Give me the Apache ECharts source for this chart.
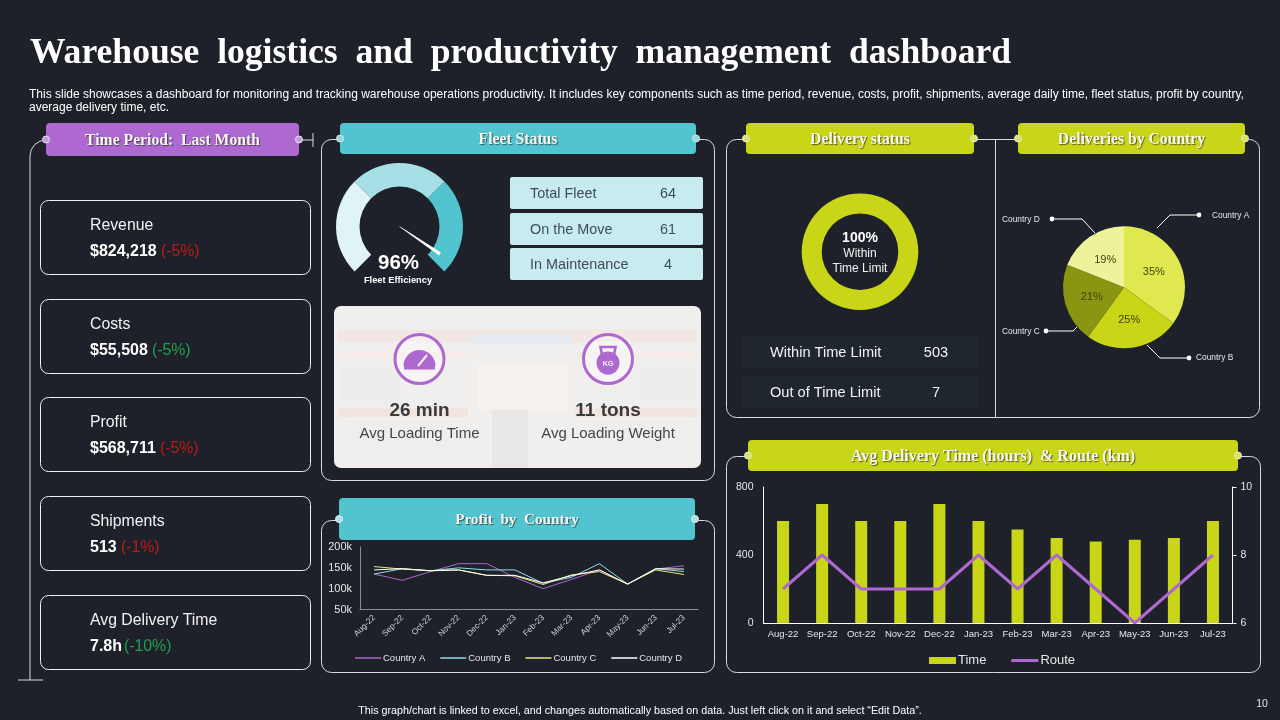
<!DOCTYPE html>
<html>
<head>
<meta charset="utf-8">
<title>Warehouse dashboard</title>
<script src="https://cdn.jsdelivr.net/npm/echarts@6/dist/echarts.min.js"></script>
<style>
  html, body { margin: 0; padding: 0; background: #1e2129; }
  #main { width: 1280px; height: 720px; }
</style>
</head>
<body>
<div id="main"></div>
<script>
// chart data
var months = ['Aug-22', 'Sep-22', 'Oct-22', 'Nov-22', 'Dec-22', 'Jan-23', 'Feb-23', 'Mar-23', 'Apr-23', 'May-23', 'Jun-23', 'Jul-23'];
var countryA = [135000, 120000, 141000, 160000, 160000, 127000, 100000, 122000, 145000, 111000, 147000, 155000];
var countryB = [135000, 148000, 143000, 150000, 145000, 145000, 113000, 127000, 160000, 111000, 148000, 141000];
var countryC = [153000, 147000, 143000, 145000, 132000, 131000, 110000, 133000, 141000, 111000, 145000, 134000];
var countryD = [145000, 148000, 143000, 145000, 132000, 132000, 114000, 131000, 145000, 111000, 148000, 147000];
var timeValues = [600, 700, 600, 600, 700, 600, 550, 500, 480, 490, 500, 600];
var routeValues = [7, 8, 7, 7, 7, 8, 7, 8, 7, 6, 7, 8];
var countryNames = ['Country A', 'Country B', 'Country C', 'Country D'];
var deliveryShares = [35, 25, 21, 19];
var fleetEfficiency = 96;
var withinLimitShare = [100];

var kpiNames = ['Revenue', 'Costs', 'Profit', 'Shipments', 'Avg Delivery Time'];
var kpiValues = ['$824,218', '$55,508', '$568,711', '513', '7.8h'];
var kpiChanges = ['(-5%)', '(-5%)', '(-5%)', '(-1%)', '(-10%)'];
var kpiChangeColors = ['#c01818', '#1fa050', '#c01818', '#c01818', '#1fa050'];
var kpiChangeLeft = [161, 152, 160, 121, 124];
var fleetNames = ['Total Fleet', 'On the Move', 'In Maintenance'];
var fleetCounts = ['64', '61', '4'];
var limitNames = ['Within Time Limit', 'Out of Time Limit'];
var limitCounts = ['503', '7'];

var BG = '#1e2129';
var PURPLE = '#ad69d0';
var TEAL = '#52c4d0';
var LIME = '#c8d617';
var LINE = '#d9dce0';
var SANS = '"Liberation Sans", Arial, sans-serif';
var SERIF = '"Liberation Serif", "Times New Roman", serif';
var NB = '\u00a0\u00a0';

var g = [];

function text(x, y, str, size, color, opts) {
  opts = opts || {};
  g.push({
    type: 'text', x: x, y: y + 1.5, z: opts.z || 10, silent: true,
    style: {
      text: str, fill: color, fontSize: size,
      fontFamily: opts.family || SANS, fontWeight: opts.weight || 'normal',
      align: opts.align || 'left', verticalAlign: 'middle',
      textShadowColor: opts.shadow, textShadowBlur: opts.shadow ? 1 : 0,
      textShadowOffsetX: opts.shadow ? 1 : 0, textShadowOffsetY: opts.shadow ? 1 : 0
    }
  });
}

function rect(x, y, w, h, r, fill, stroke, z) {
  g.push({
    type: 'rect', silent: true, z: z || 2,
    shape: { x: x, y: y, width: w, height: h, r: r },
    style: { fill: fill || 'transparent', stroke: stroke || null, lineWidth: stroke ? 1 : 0 }
  });
}

function poly(points, color, width, z) {
  g.push({
    type: 'polyline', silent: true, z: z || 3,
    shape: { points: points },
    style: { stroke: color, lineWidth: width || 1, fill: null }
  });
}

function dot(x, y, r, fill, stroke, z, lineWidth) {
  g.push({
    type: 'circle', silent: true, z: z || 6,
    shape: { cx: x, cy: y, r: r },
    style: { fill: fill, stroke: stroke || null, lineWidth: stroke ? (lineWidth || 1) : 0 }
  });
}

function header(x, y, w, h, color, label, dotFill, size) {
  rect(x, y, w, h, 4, color, null, 4);
  text(x + w / 2, y + h / 2, label, size || 15.7, '#f6f6ee', { family: SERIF, weight: 'bold', align: 'center', shadow: 'rgba(40,40,40,0.7)' });
  dot(x, y + h / 2, 3.5, dotFill, '#dfe6e6');
  dot(x + w, y + h / 2, 3.5, dotFill, '#dfe6e6');
}

// title block
text(30, 52, ['Warehouse', 'logistics', 'and', 'productivity', 'management', 'dashboard'].join(NB), 35.6, '#ffffff', { family: SERIF, weight: 'bold' });
text(29, 93, 'This slide showcases a dashboard for monitoring and tracking warehouse operations productivity. It includes key components such as time period, revenue, costs, profit, shipments, average daily time, fleet status, profit by country,', 12, '#ffffff');
text(29, 106, 'average delivery time, etc.', 12, '#ffffff');

// left column
g.push({
  type: 'arc', silent: true, z: 3,
  shape: { cx: 46, cy: 156, r: 16, startAngle: Math.PI, endAngle: Math.PI * 1.5, clockwise: true },
  style: { stroke: LINE, lineWidth: 1, fill: null }
});
poly([[30, 156], [30, 680]], LINE);
poly([[18, 680], [43, 680]], LINE);
poly([[299, 140], [313, 140]], LINE);
poly([[313, 133], [313, 147]], LINE);
header(46, 123, 253, 33, PURPLE, 'Time Period:' + NB + 'Last Month', '#c79be0');

var cardTops = [200, 299, 397, 496, 595];
kpiNames.forEach(function (name, i) {
  var top = cardTops[i];
  rect(40.5, top + 0.5, 270, 74, 8, null, '#f0f0f0');
  text(90, top + 24, name, 15.8, '#f2f2f2');
  text(90, top + 50, kpiValues[i], 16, '#ffffff', { weight: 'bold' });
  text(kpiChangeLeft[i], top + 50, kpiChanges[i], 15.8, kpiChangeColors[i]);
});

// fleet panel
rect(321.5, 139.5, 393, 341, 10, null, LINE);
header(340, 123, 356, 31, TEAL, 'Fleet Status', '#8fdbe3');
var fleetTops = [177, 213, 248];
fleetNames.forEach(function (name, i) {
  rect(510, fleetTops[i], 193, 32, 2, '#c7ebef');
  text(530, fleetTops[i] + 16, name, 14.4, '#3f4d58');
  text(668, fleetTops[i] + 16, fleetCounts[i], 14.4, '#3f4d58', { align: 'center' });
});

// faded warehouse picture
rect(334, 306, 367, 162, 7, '#f1efee');
[[338, 330, 359, 12, '#f2e7e3'], [338, 352, 130, 6, '#f4ebe7'], [575, 352, 122, 6, '#f4ebe7'], [338, 408, 130, 9, '#f2e5e0'],
 [575, 408, 122, 9, '#f2e5e0'], [472, 334, 100, 10, '#e6eaf1'], [340, 362, 60, 44, '#eeedec'], [640, 362, 55, 44, '#eeedec'],
 [345, 420, 110, 42, '#efeeed'], [585, 420, 105, 42, '#efeeed'], [478, 362, 90, 48, '#f4f1ee'], [492, 410, 36, 58, '#e9e8e7']
].forEach(function (b) { rect(b[0], b[1], b[2], b[3], 0, b[4], null, 3); });

dot(419.5, 359, 24.5, 'rgba(255,255,255,0.35)', PURPLE, 6, 3);
dot(608, 359, 24.5, 'rgba(255,255,255,0.35)', PURPLE, 6, 3);
// speedometer icon
g.push({
  type: 'sector', silent: true, z: 7,
  shape: { cx: 419.5, cy: 366, r: 16, r0: 0, startAngle: Math.PI, endAngle: Math.PI * 2, clockwise: true },
  style: { fill: PURPLE }
});
rect(404, 366, 31, 3.5, 0, PURPLE, null, 7);
poly([[418, 366], [427, 355]], '#f3eef3', 2.2, 8);
// kettlebell icon
dot(608, 363, 11.5, PURPLE, null, 7);
poly([[602, 355], [600.5, 347], [615.5, 347], [614, 355]], PURPLE, 2.6, 7);
text(608, 362.5, 'KG', 7.5, '#f3eef3', { align: 'center', weight: 'bold', z: 8 });
text(419.5, 409, '26 min', 19, '#3b3b3b', { align: 'center', weight: 'bold' });
text(419.5, 432, 'Avg Loading Time', 15, '#454545', { align: 'center' });
text(608, 409, '11 tons', 19, '#3b3b3b', { align: 'center', weight: 'bold' });
text(608, 432, 'Avg Loading Weight', 15, '#454545', { align: 'center' });

// profit panel
rect(321.5, 520.5, 393, 152, 10, null, LINE);
header(339, 498, 356, 42, TEAL, 'Profit' + NB + 'by' + NB + 'Country', '#a9e4ea', 15.2);

// delivery panels
rect(726.5, 139.5, 533, 278, 10, null, LINE);
poly([[995.5, 139], [995.5, 418]], LINE);
header(746, 123, 228, 31, LIME, 'Delivery status', '#dbe65a');
header(1018, 123, 227, 31, LIME, 'Deliveries by Country', '#dbe65a');
text(860, 237, '100%', 14, '#ffffff', { align: 'center', weight: 'bold' });
text(860, 252.5, 'Within', 12, '#f2f2f2', { align: 'center' });
text(860, 267.5, 'Time Limit', 12, '#f2f2f2', { align: 'center' });
limitNames.forEach(function (name, i) {
  var y = 351.5 + i * 40;
  rect(742, y - 16, 236, 32, 3, '#1f262e');
  text(770, y, name, 14.6, '#f2f2f2');
  text(936, y, limitCounts[i], 14.6, '#f2f2f2', { align: 'center' });
});

// pie call-outs
[
  { pts: [[1157, 228], [1170, 215], [1199, 215]], tx: 1212, ty: 214 },
  { pts: [[1147, 345], [1160, 358], [1189, 358]], tx: 1196, ty: 356 },
  { pts: [[1077, 327], [1073, 331], [1046, 331]], tx: 1002, ty: 330 },
  { pts: [[1095, 233], [1082, 219], [1052, 219]], tx: 1002, ty: 218 }
].forEach(function (c, i) {
  poly(c.pts, '#ffffff');
  dot(c.pts[2][0], c.pts[2][1], 2.4, '#ffffff');
  text(c.tx, c.ty, countryNames[i], 8.4, '#e6e6e6');
});

// delivery time panel
rect(726.5, 456.5, 534, 216, 10, null, LINE);
header(748, 440, 490, 31, LIME, 'Avg Delivery Time (hours)' + NB + '& Route (km)', '#dbe65a', 16);

// footer
text(640, 709.5, 'This graph/chart is linked to excel, and changes automatically based on data. Just left click on it and select \u201cEdit Data\u201d.', 10.75, '#ffffff', { align: 'center' });
text(1262, 703, '10', 10.5, '#e6e6e6', { align: 'center' });

var lineColors = ['#a868c8', '#8fdde6', '#e5ea70', '#ffffff'];
var lineData = [countryA, countryB, countryC, countryD];
var pieColors = ['#dfe84e', '#c8d617', '#8a9612', '#eef29b'];

var series = [
  {
    type: 'gauge', center: [399.5, 226.5], radius: 63.5, startAngle: 225, endAngle: -45, min: 0, max: 100, z: 5,
    axisLine: { lineStyle: { width: 23.5, color: [[0.3333, '#e0f3f6'], [0.6667, '#a6e0e6'], [1, TEAL]] } },
    axisTick: { show: false }, splitLine: { show: false }, axisLabel: { show: false },
    pointer: { icon: 'path://M3.5 0 L6.5 0 L5.2 100 L4.8 100 Z', length: 49, width: 3.5, itemStyle: { color: '#ffffff' } },
    title: { offsetCenter: [-1.5, 54], color: '#ffffff', fontSize: 9.3, fontWeight: 'bold', fontFamily: SANS },
    detail: { offsetCenter: [-1, 37], formatter: '{value}%', color: '#ffffff', fontSize: 20.5, fontWeight: 'bold', fontFamily: SANS },
    data: [{ value: fleetEfficiency, name: 'Fleet Efficiency' }]
  },
  {
    type: 'pie', center: [860, 251.7], radius: [38.3, 58.3], silent: true, z: 5,
    label: { show: false }, labelLine: { show: false },
    itemStyle: { color: LIME },
    data: withinLimitShare
  },
  {
    type: 'pie', center: [1124, 287.3], radius: 61, startAngle: 90, silent: true, z: 5,
    label: { show: true, position: 'inside', formatter: '{c}%', color: '#41440e', fontSize: 11, fontFamily: SANS },
    labelLine: { show: false },
    data: countryNames.map(function (n, i) {
      return { name: n, value: deliveryShares[i], itemStyle: { color: pieColors[i] } };
    })
  }
];

countryNames.forEach(function (n, i) {
  series.push({
    name: n, type: 'line', xAxisIndex: 0, yAxisIndex: 0, symbol: 'none', z: 5 + i,
    lineStyle: { color: lineColors[i], width: 1 }, itemStyle: { color: lineColors[i] },
    data: lineData[i]
  });
});

series.push({
  name: 'Time', type: 'bar', xAxisIndex: 1, yAxisIndex: 1, barWidth: 12, z: 5,
  itemStyle: { color: LIME }, data: timeValues
});
series.push({
  name: 'Route', type: 'line', xAxisIndex: 1, yAxisIndex: 2, symbol: 'none', z: 6,
  lineStyle: { color: PURPLE, width: 3 }, itemStyle: { color: PURPLE }, data: routeValues
});

var chart = echarts.init(document.getElementById('main'));
chart.setOption({
  animation: false,
  backgroundColor: BG,
  textStyle: { fontFamily: SANS },
  graphic: { elements: g },
  legend: [
    {
      data: countryNames, left: 350, top: 648, itemWidth: 26, itemHeight: 1.5, itemGap: 15,
      icon: 'rect', textStyle: { color: '#e6e6e6', fontSize: 9.5, fontFamily: SANS, padding: [0, 0, 0, -3] }
    },
    {
      // thin bar icon for Route: the tiny corners keep the icon box full height
      data: [{ name: 'Time', icon: 'rect' }, { name: 'Route', icon: 'path://M0 0 L0.1 0 L0 0.1 Z M0 30 L100 30 L100 70 L0 70 Z M0 100 L0.1 100 L0 99.9 Z' }],
      left: 924, top: 649, itemWidth: 27, itemHeight: 7, itemGap: 25, symbolKeepAspect: false,
      textStyle: { color: '#e6e6e6', fontSize: 13, fontFamily: SANS, padding: [0, 0, 0, -3] }
    }
  ],
  grid: [
    { left: 360, top: 547, width: 338, height: 62.5 },
    { left: 763.5, top: 487, width: 469, height: 136 }
  ],
  xAxis: [
    {
      type: 'category', gridIndex: 0, data: months,
      axisLine: { lineStyle: { color: '#8a8d92' } }, axisTick: { show: false },
      axisLabel: { color: '#d0d2d5', fontSize: 8.2, rotate: 45, interval: 0, margin: 7 }
    },
    {
      type: 'category', gridIndex: 1, data: months,
      axisLine: { lineStyle: { color: '#ffffff' } }, axisTick: { show: false },
      axisLabel: { color: '#e6e6e6', fontSize: 9.5, interval: 0, margin: 6 }
    }
  ],
  yAxis: [
    {
      type: 'value', gridIndex: 0, min: 50000, max: 200000, interval: 50000,
      axisLine: { show: true, lineStyle: { color: '#8a8d92' } }, axisTick: { show: false }, splitLine: { show: false },
      axisLabel: { color: '#e6e6e6', fontSize: 11, margin: 8, formatter: function (v) { return v / 1000 + 'k'; } }
    },
    {
      type: 'value', gridIndex: 1, min: 0, max: 800, interval: 400,
      axisLine: { show: true, lineStyle: { color: '#ffffff' } }, axisTick: { show: false }, splitLine: { show: false },
      axisLabel: { color: '#e6e6e6', fontSize: 10.5, margin: 10 }
    },
    {
      type: 'value', gridIndex: 1, position: 'right', min: 6, max: 10, interval: 2,
      axisLine: { show: true, lineStyle: { color: '#ffffff' } },
      axisTick: { show: true, length: 4, inside: false, lineStyle: { color: '#ffffff' } }, splitLine: { show: false },
      axisLabel: { color: '#e6e6e6', fontSize: 10.5, margin: 8 }
    }
  ],
  series: series
});
</script>
</body>
</html>
